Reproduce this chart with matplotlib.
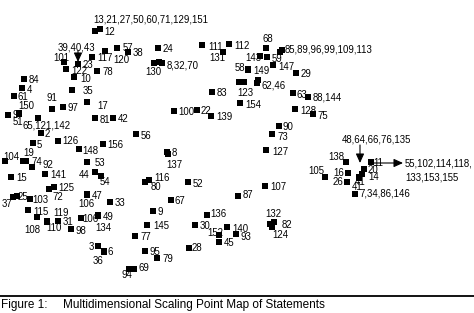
import matplotlib
matplotlib.use("Agg")
import matplotlib.pyplot as plt

plt.rcParams['font.family'] = ['Liberation Sans', 'DejaVu Sans']

# Statement numbers and their positions on the two-dimensional point map
# (dim1 increases to the right, dim2 increases downward).
stmt_ids = [
    "13,21,27,50,60,71,129,151", "12", "23", "101", "117", "120", "57", "38", "122", "78",
    "10", "84", "4", "35", "61", "91", "97", "9", "150", "51",
    "65,121,142", "2", "5", "126", "17", "81", "42", "56", "148", "156",
    "104", "19", "74", "92", "15", "141", "53", "44", "54", "125",
    "72", "37", "25", "103", "115", "108", "119", "110", "31", "98",
    "47", "106", "106", "33", "49", "134", "3", "6", "36", "94",
    "69", "9", "145", "77", "95", "79", "67", "28", "30", "136",
    "152", "45", "140", "93", "87", "132", "82", "124", "107", "127",
    "73", "90", "128", "75", "100", "22", "139", "154", "83", "123",
    "", "62,46", "", "149", "58", "143", "59", "68", "147", "85,89,96,99,109,113",
    "", "29", "63", "88,144", "111", "112", "131", "24", "130", "",
    "8,32,70", "8", "137", "116", "80", "52", "138", "11", "20", "14",
    "16", "105", "26", "41", "41", "7,34,86,146",
]
dim1 = [
    95, 100, 78, 64, 92, 105, 117, 128, 66, 97,
    74, 24, 22, 72, 14, 52, 63, 8, 19, 19,
    38, 41, 33, 58, 87, 95, 113, 136, 79, 103,
    5, 23, 26, 32, 11, 45, 87, 95, 101, 54,
    49, 13, 17, 30, 28, 37, 47, 47, 58, 71,
    87, 87, 81, 110, 98, 98, 98, 104, 104, 129,
    134, 153, 147, 135, 145, 157, 171, 189, 195, 207,
    219, 219, 227, 236, 238, 274, 270, 272, 265, 266,
    272, 279, 295, 313, 174, 197, 211, 240, 212, 239,
    244, 258, 257, 248, 248, 260, 267, 266, 273, 280,
    282, 296, 293, 308, 202, 229, 223, 158, 154, 159,
    162, 167, 168, 149, 145, 188, 346, 371, 364, 362,
    348, 325, 347, 359, 359, 355,
]
dim2 = [
    31, 29, 64, 62, 57, 51, 48, 52, 69, 71,
    77, 79, 88, 90, 96, 109, 107, 115, 113, 114,
    118, 133, 143, 141, 102, 118, 118, 134, 149, 144,
    161, 161, 161, 167, 177, 174, 162, 172, 176, 187,
    189, 197, 196, 199, 210, 217, 221, 222, 221, 229,
    194, 195, 218, 202, 215, 216, 246, 251, 252, 269,
    269, 211, 225, 236, 251, 258, 200, 248, 225, 215,
    235, 242, 227, 234, 196, 222, 224, 227, 186, 150,
    134, 126, 109, 114, 111, 110, 116, 103, 92, 82,
    82, 80, 83, 70, 69, 56, 57, 48, 65, 52,
    50, 73, 93, 97, 45, 44, 52, 48, 63, 62,
    63, 152, 154, 180, 182, 182, 162, 162, 169, 174,
    173, 177, 182, 177, 178, 194,
]

# Where each statement number is written, relative to its point
label_dx = [
    -2, 4, 5, -11, 5, 8, 6, 5, 5, 5,
    6, 5, 5, 11, 4, -5, 5, 5, -1, -6,
    -15, 4, 4, 4, 10, 5, 5, 5, 3, 4,
    -2, 0, 5, 11, 5, 5, 8, -16, -1, 4,
    3, -11, 1, 2, 5, -13, 6, -1, 5, 5,
    5, -9, 1, 5, 5, -3, -9, 4, -11, -7,
    5, 5, 6, 5, 5, 5, 4, 3, 5, 3,
    -12, 5, 5, 5, 5, -9, 12, 0, 5, 6,
    5, 4, 5, 4, 4, 4, 5, 5, 5, -2,
    0, 4, 0, 5, -13, -15, 5, -3, 5, 5,
    0, 5, 4, 5, 6, 5, -14, 5, -9, 0,
    5, 5, -2, 5, 6, 5, -18, 2, 4, 6,
    -15, -17, -14, -4, -7, 4,
]
label_dy = [
    -11, 3, 1, -4, 1, 9, 0, 1, 2, 1,
    2, 1, 2, 1, 1, -11, 1, 0, -7, 8,
    8, 1, 2, 0, 4, 2, 1, 2, 2, 1,
    -4, -8, 1, -2, 1, 1, 1, 3, 6, 1,
    8, 7, 1, 1, 2, 13, -8, 6, 1, 2,
    2, 9, 1, 1, 2, 12, 1, 1, 9, 6,
    -1, 1, 1, 1, 1, 1, 1, 0, 1, -1,
    -2, 1, 2, 3, -1, -8, 1, 8, 1, 2,
    3, 1, 2, 2, 1, 1, 1, 2, 1, 11,
    0, 5, 0, 1, -1, 2, 2, -9, 2, -3,
    0, 1, 2, 1, 2, 2, 6, 1, 9, 0,
    2, 1, 11, -2, 5, 2, -5, 1, 1, 3,
    0, -6, 0, 5, 9, -1,
]

# Statement groups that share one location, written away from it with an arrow
arrow_groups = ["39,40,43", "48,64,66,76,135", "55,102,114,118,\n133,153,155"]
arrow_tails = [(78, 51), (360, 145), (372, 163)]
arrow_heads = [(78, 62), (360, 163), (403, 163)]
group_text_pos = [(58, 47), (342, 140), (405, 163)]

fig = plt.figure(figsize=(4.74, 3.13), dpi=100)
ax = fig.add_axes([0, 0, 1, 1])
ax.set_xlim(0, 474)
ax.set_ylim(313, 0)
ax.axis('off')

label_size = 6.9

for sid, x, y, dx, dy in zip(stmt_ids, dim1, dim2, label_dx, label_dy):
    if sid:
        ax.text(x + dx, y + dy, sid, ha='left', va='center',
                fontsize=label_size, color='black', zorder=2)

ax.plot(dim1, dim2, linestyle='none', marker='s', markersize=4.2,
        color='black', markeredgewidth=0, zorder=3)

for text, tail, head, tpos in zip(arrow_groups, arrow_tails, arrow_heads, group_text_pos):
    ax.annotate('', xy=head, xytext=tail,
                arrowprops=dict(arrowstyle='-|>,head_length=0.55,head_width=0.25',
                                color='black', lw=0.8, shrinkA=0, shrinkB=0,
                                mutation_scale=10), zorder=4)
    if '\n' in text:
        first, second = text.split('\n')
        ax.text(tpos[0], tpos[1], first, ha='left', va='center', fontsize=label_size)
        ax.text(tpos[0], tpos[1] + 14, second, ha='left', va='center', fontsize=label_size)
    else:
        ax.text(tpos[0], tpos[1], text, ha='left', va='center', fontsize=label_size)

# Caption rule and caption
ax.axhline(295.5, color='black', lw=1.3)
ax.text(1, 305, "Figure 1:", ha='left', va='center', fontsize=8.5)
ax.text(63, 305, "Multidimensional Scaling Point Map of Statements",
        ha='left', va='center', fontsize=8.5)

fig.savefig("out.png", dpi=100)
